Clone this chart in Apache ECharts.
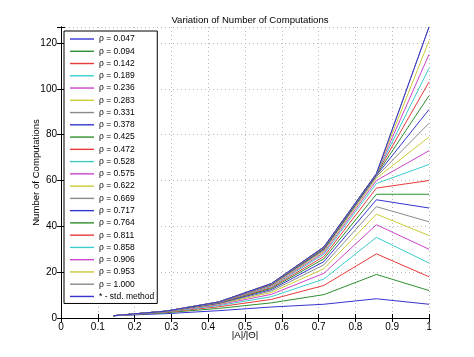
<!DOCTYPE html>
<html>
<head>
<meta charset="utf-8">
<script src="https://cdn.jsdelivr.net/npm/echarts@6/dist/echarts.min.js"></script>
<style>html,body{margin:0;padding:0;background:#fff;}#c{width:474px;height:357px;}</style>
</head>
<body>
<div id="c"></div>
<script>
// x positions |A|/|Θ| = k/7
const xValues = [0.1429, 0.2857, 0.4286, 0.5714, 0.7143, 0.8571, 1.0];
const xTicks = [0, 0.1, 0.2, 0.3, 0.4, 0.5, 0.6, 0.7, 0.8, 0.9, 1];
const yTicks = [0, 20, 40, 60, 80, 100, 120];
const rhoLabels = ['0.047','0.094','0.142','0.189','0.236','0.283','0.331','0.378','0.425','0.472',
                   '0.528','0.575','0.622','0.669','0.717','0.764','0.811','0.858','0.906','0.953','1.000'];
const r047 = [1, 1.9, 3.2, 4.8, 6.0, 8.4, 6];
const r094 = [1, 2.3, 4.2, 6.6, 10.2, 19.0, 12];
const r142 = [1, 2.55, 4.9, 8.1, 14.2, 28.0, 18];
const r189 = [1, 2.7, 5.4, 9.3, 17.0, 35.2, 24];
const r236 = [1, 2.8, 5.8, 10.3, 19.5, 40.7, 30];
const r283 = [1, 2.87, 6.1, 11.1, 21.5, 45.3, 36];
const r331 = [1, 2.92, 6.3, 11.8, 23.2, 48.6, 42];
const r378 = [1, 2.95, 6.45, 12.4, 24.6, 51.6, 48];
const r425 = [1, 2.97, 6.6, 12.9, 25.8, 54.0, 54];
const r472 = [1, 2.98, 6.7, 13.3, 26.8, 56.7, 60];
const r528 = [1, 2.99, 6.8, 13.7, 27.8, 58.7, 67];
const r575 = [1, 3, 6.85, 14.0, 28.5, 60.0, 73];
const r622 = [1, 3, 6.9, 14.2, 29.1, 61.0, 79];
const r669 = [1, 3, 6.93, 14.4, 29.6, 61.7, 85];
const r717 = [1, 3, 6.95, 14.6, 30.0, 62.2, 91];
const r764 = [1, 3, 6.97, 14.7, 30.3, 62.5, 97];
const r811 = [1, 3, 6.98, 14.8, 30.6, 62.8, 103];
const r858 = [1, 3, 6.99, 14.9, 30.8, 62.9, 109];
const r906 = [1, 3, 7, 14.95, 30.9, 63.0, 115];
const r953 = [1, 3, 7, 15, 31.0, 63.0, 121];
const r1000 = [1, 3, 7, 15, 31.0, 63.0, 127];
const stdMethod = [1, 3, 7, 15, 31, 63, 127];
const rhoSeries = [r047,r094,r142,r189,r236,r283,r331,r378,r425,r472,r528,r575,r622,r669,r717,r764,r811,r858,r906,r953,r1000];
const palette = ['#3535d0', '#2f8f2f', '#e83a3a', '#3ccccc', '#cc44cc', '#cccc3a', '#8a8a8a'];

const FONT = 'Liberation Sans';
// thin horizontal line legend icon (bounding box 24 x 10, bar in the middle)
const LINE_ICON = 'path://M0,0L0,0M24,10L24,10M0,4.3L24,4.3L24,5.7L0,5.7Z';
const series = [];
const legendData = [];
rhoSeries.forEach((vals, i) => {
  const name = 'ρ = ' + rhoLabels[i];
  legendData.push({name: name, icon: LINE_ICON});
  series.push({
    name: name, type: 'line', symbol: 'none', showSymbol: false, silent: true,
    data: xValues.map((x, j) => [x, vals[j]]),
    lineStyle: {width: 1, color: palette[i % 7]},
    itemStyle: {color: palette[i % 7]},
    animation: false
  });
});
legendData.push({name: '* - std. method', icon: LINE_ICON});
series.push({
  name: '* - std. method', type: 'line', symbol: 'none', showSymbol: false, silent: true,
  data: xValues.map((x, j) => [x, stdMethod[j]]),
  lineStyle: {width: 1, color: palette[0]},
  itemStyle: {color: palette[0]},
  animation: false
});

const axisCommon = {
  axisLine: {show: true, lineStyle: {color: '#000', width: 1}},
  axisTick: {show: true, inside: true, length: 4, lineStyle: {color: '#000'}},
};
const chart = echarts.init(document.getElementById('c'), null, {renderer: 'canvas'});
chart.setOption({
  animation: false,
  backgroundColor: '#fff',
  title: {
    text: 'Variation of Number of Computations', left: 245, top: 10, textAlign: 'center',
    textStyle: {fontFamily: FONT, fontSize: 9.6, fontWeight: 'normal', color: '#000'}
  },
  grid: {left: 61, right: 45, top: 27, bottom: 39, containLabel: false},
  legend: {
    orient: 'vertical', left: 64, top: 31, data: legendData,
    itemWidth: 24, itemHeight: 10, itemGap: 2.26,
    padding: [3, 3, 2, 6],
    backgroundColor: '#fff', borderColor: '#000', borderWidth: 1,
    textStyle: {fontFamily: FONT, fontSize: 8.5, color: '#000', lineHeight: 10},
    selectedMode: false
  },
  xAxis: [
    Object.assign({
      type: 'value', min: xTicks[0], max: xTicks[xTicks.length - 1], interval: 0.1,
      name: '|A|/|Θ|', nameLocation: 'middle', nameGap: 12, nameMoveOverlap: false,
      nameTextStyle: {fontFamily: FONT, fontSize: 9.6, color: '#000', verticalAlign: 'top'},
      axisLabel: {fontFamily: FONT, fontSize: 10, color: '#000', margin: 4,
        formatter: v => { const r = Math.round(v * 10) / 10; return xTicks.indexOf(r) >= 0 ? String(r) : ''; }},
      splitLine: {show: true, lineStyle: {color: '#b8b8b8', type: [1, 3], width: 1}}
    }, axisCommon),
    Object.assign({
      type: 'value', position: 'top', min: 0, max: 1, interval: 0.1,
      axisLabel: {show: false}, splitLine: {show: false}
    }, axisCommon)
  ],
  yAxis: [
    Object.assign({
      type: 'value', min: 0, max: 127, interval: 20,
      name: 'Number of Computations', nameLocation: 'middle', nameGap: 20, nameMoveOverlap: false,
      nameTextStyle: {fontFamily: FONT, fontSize: 9.6, color: '#000'},
      axisLabel: {fontFamily: FONT, fontSize: 10, color: '#000', margin: 4,
        formatter: v => yTicks.indexOf(Math.round(v)) >= 0 && Math.abs(v - Math.round(v)) < 1e-6 ? String(Math.round(v)) : ''},
      splitLine: {show: true, lineStyle: {color: '#b8b8b8', type: [1, 3], width: 1}}
    }, axisCommon),
    Object.assign({
      type: 'value', position: 'right', min: 0, max: 127, interval: 20,
      axisLabel: {show: false}, splitLine: {show: false}
    }, axisCommon)
  ],
  series: series
});
</script>
</body>
</html>
